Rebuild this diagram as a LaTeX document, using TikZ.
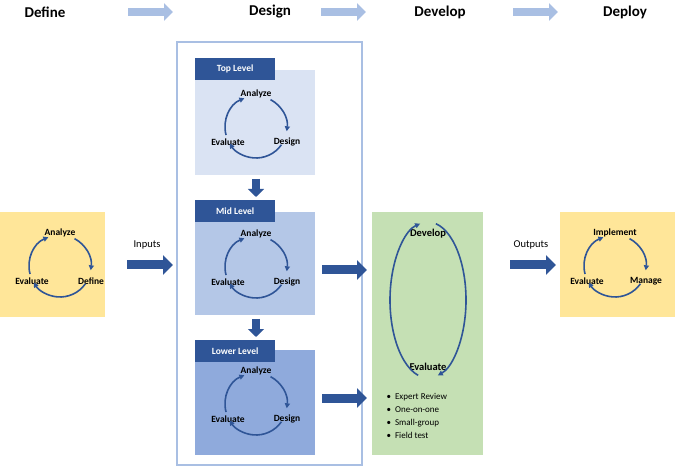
\documentclass[tikz,border=0pt]{standalone}
\usepackage{fontspec}
\setmainfont{Carlito}
\usetikzlibrary{arrows.meta,calc}
\definecolor{dk}{HTML}{2F5597}
\definecolor{lt}{HTML}{A9BFE3}
\definecolor{yl}{HTML}{FFE699}
\definecolor{gr}{HTML}{C5E0B4}
\definecolor{p1}{HTML}{DAE3F3}
\definecolor{p2}{HTML}{B4C7E7}
\definecolor{p3}{HTML}{8FAADC}
\begin{document}
\begin{tikzpicture}[x=1pt,y=1pt,
 hdr/.style={font=\bfseries\fontsize{15}{17}\selectfont},
 lbl/.style={font=\bfseries\fontsize{9.5}{10}\selectfont},
 tag/.style={fill=dk,text=white,font=\bfseries\fontsize{9.5}{10}\selectfont,minimum width=80,minimum height=22,inner sep=0},
 cyc/.style={draw=dk,line width=1.6pt,-{Triangle[length=5pt,width=5pt]}},
 fat/.style={draw=#1,line width=9pt,-{Triangle[length=10pt,width=19pt]}},
 dn/.style={draw=dk,line width=8pt,-{Triangle[length=8pt,width=16pt]}}]
\useasboundingbox (0,0) rectangle (676,471);
% headers
\node[hdr] (h1) at (45,459) {Define};
\node[hdr] (h2) at (270,459) {Design};
\node[hdr] (h3) at (440,459) {Develop};
\node[hdr] (h4) at (625,459) {Deploy};
\foreach \n/\x in {1/128,2/321,3/513}{
 \coordinate (ls\n) at (\x,459); \coordinate (le\n) at (\x+45,459);
 \draw[fat=lt,line width=8pt,-{Triangle[length=9pt,width=17pt]}] (ls\n) -- (le\n);}
% frame
\draw[lt,line width=1.2pt] (177,6) rectangle (362,429);
% panels
\fill[p1] (195,296) rectangle (315,401);
\node[tag,anchor=north west] (t1) at (195,413) {Top Level};
\fill[p2] (195,156) rectangle (315,259);
\node[tag,anchor=north west] (t2) at (195,271) {Mid Level};
\fill[p3] (195,16) rectangle (315,121);
\node[tag,anchor=north west] (t3) at (195,131) {Lower Level};
\coordinate (d1s) at (256,292); \coordinate (d1e) at (256,274);
\coordinate (d2s) at (256,152); \coordinate (d2e) at (256,134);
\draw[dn] (d1s) -- (d1e);
\draw[dn] (d2s) -- (d2e);
\fill[yl] (0,154) rectangle (105,259);
\fill[yl] (560,154) rectangle (675,259);
\newcommand\mycyc[6]{%
 \node[lbl] (#6a) at (#1,#2+33) {#3};
 \node[lbl] (#6b) at (#1-28,#2-15) {#4};
 \node[lbl] (#6c) at (#1+31,#2-15) {#5};
 \draw[cyc] ($(#1,#2)+(195:31)$) arc (195:112:31);
 \draw[cyc] ($(#1,#2)+(62:31)$) arc (62:-8:31);
 \draw[cyc] ($(#1,#2)+(-35:31)$) arc (-35:-148:31);
}
\mycyc{256}{344}{Analyze}{Evaluate}{Design}{ca}
\mycyc{256}{204}{Analyze}{Evaluate}{Design}{cb}
\mycyc{256}{67}{Analyze}{Evaluate}{Design}{cc}
\mycyc{60}{205}{Analyze}{Evaluate}{Define}{cd}
\mycyc{615}{205}{Implement}{Evaluate}{Manage}{ce}
% inputs/outputs
\node[font=\fontsize{10.5}{12}\selectfont] (in) at (147,226) {Inputs};
\node[font=\fontsize{10.5}{12}\selectfont] (out) at (531,226) {Outputs};
\coordinate (ias) at (127,206); \coordinate (iae) at (173,206);
\coordinate (oas) at (510,206); \coordinate (oae) at (556,206);
\coordinate (m1s) at (322,201); \coordinate (m1e) at (367,201);
\coordinate (m2s) at (322,73); \coordinate (m2e) at (367,73);
\draw[fat=dk] (ias) -- (iae);
\draw[fat=dk] (oas) -- (oae);
\draw[fat=dk] (m1s) -- (m1e);
\draw[fat=dk] (m2s) -- (m2e);
% green
\fill[gr] (372,16) rectangle (483,259);
\node[lbl,font=\bfseries\fontsize{10.5}{12}\selectfont] (dv) at (428,237) {Develop};
\node[lbl,font=\bfseries\fontsize{10.5}{12}\selectfont] (ev) at (428,104) {Evaluate};
\draw[cyc] ($(428,171)+(255:38 and 78)$) arc[start angle=255,end angle=102,x radius=38,y radius=78];
\draw[cyc] ($(428,171)+(78:38 and 78)$) arc[start angle=78,end angle=-75,x radius=38,y radius=78];
\node[anchor=north west,align=left,font=\fontsize{9}{13}\selectfont] (bl) at (383,81) {\textbullet\ \ Expert Review\\\textbullet\ \ One-on-one\\\textbullet\ \ Small-group\\\textbullet\ \ Field test};
\end{tikzpicture}
\end{document}
